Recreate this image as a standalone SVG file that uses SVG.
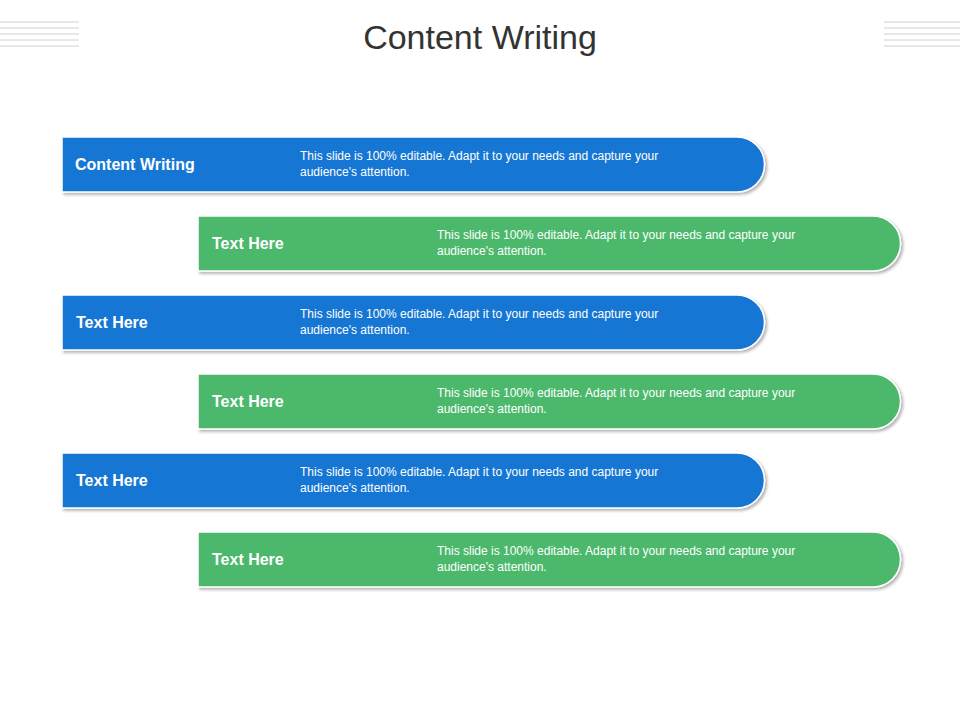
<svg xmlns="http://www.w3.org/2000/svg" width="960" height="720" viewBox="0 0 960 720">
<defs>
<style>
.t{font-family:"Liberation Sans",Arial,sans-serif}
.h{font-size:16px;font-weight:bold;fill:#fff}
.d{font-size:12px;fill:#fff}
.dl{stroke:#d0d0d0;stroke-width:1}
.b{fill:#1576d4;stroke:#fff;stroke-width:1.5}
.g{fill:#4cb86c;stroke:#fff;stroke-width:1.5}
</style>
<filter id="sh" x="-5%" y="-20%" width="110%" height="150%"><feDropShadow dx="2" dy="2" stdDeviation="1.5" flood-color="#000" flood-opacity="0.3"/></filter>
<path id="bar" d="M0,0 H675 A27.5,27.5 0 0 1 675,55 H0 Z"/>
</defs>
<rect width="960" height="720" fill="#fff"/>
<g class="dl">
<line x1="0" y1="22" x2="79" y2="22"/><line x1="0" y1="28" x2="79" y2="28"/><line x1="0" y1="34" x2="79" y2="34"/><line x1="0" y1="40" x2="79" y2="40"/><line x1="0" y1="46" x2="79" y2="46"/>
<line x1="884" y1="22" x2="960" y2="22"/><line x1="884" y1="28" x2="960" y2="28"/><line x1="884" y1="34" x2="960" y2="34"/><line x1="884" y1="40" x2="960" y2="40"/><line x1="884" y1="46" x2="960" y2="46"/>
</g>
<text class="t" x="480" y="49" text-anchor="middle" font-size="34" fill="#333">Content Writing</text>
<g id="n1" transform="translate(62,137)"><use href="#bar" class="b" filter="url(#sh)"/><text class="t h" x="13" y="33">Content Writing</text><text class="t d" x="238" y="23">This slide is 100% editable. Adapt it to your needs and capture your</text><text class="t d" x="238" y="39">audience's attention.</text></g>
<g id="n2" transform="translate(198,216)"><use href="#bar" class="g" filter="url(#sh)"/><text class="t h" x="14" y="33">Text Here</text><text class="t d" x="239" y="23">This slide is 100% editable. Adapt it to your needs and capture your</text><text class="t d" x="239" y="39">audience's attention.</text></g>
<g id="n3" transform="translate(62,295)"><use href="#bar" class="b" filter="url(#sh)"/><text class="t h" x="14" y="33">Text Here</text><text class="t d" x="238" y="23">This slide is 100% editable. Adapt it to your needs and capture your</text><text class="t d" x="238" y="39">audience's attention.</text></g>
<g id="n4" transform="translate(198,374)"><use href="#bar" class="g" filter="url(#sh)"/><text class="t h" x="14" y="33">Text Here</text><text class="t d" x="239" y="23">This slide is 100% editable. Adapt it to your needs and capture your</text><text class="t d" x="239" y="39">audience's attention.</text></g>
<g id="n5" transform="translate(62,453)"><use href="#bar" class="b" filter="url(#sh)"/><text class="t h" x="14" y="33">Text Here</text><text class="t d" x="238" y="23">This slide is 100% editable. Adapt it to your needs and capture your</text><text class="t d" x="238" y="39">audience's attention.</text></g>
<g id="n6" transform="translate(198,532)"><use href="#bar" class="g" filter="url(#sh)"/><text class="t h" x="14" y="33">Text Here</text><text class="t d" x="239" y="23">This slide is 100% editable. Adapt it to your needs and capture your</text><text class="t d" x="239" y="39">audience's attention.</text></g>
<g id="connectors"/>
</svg>
